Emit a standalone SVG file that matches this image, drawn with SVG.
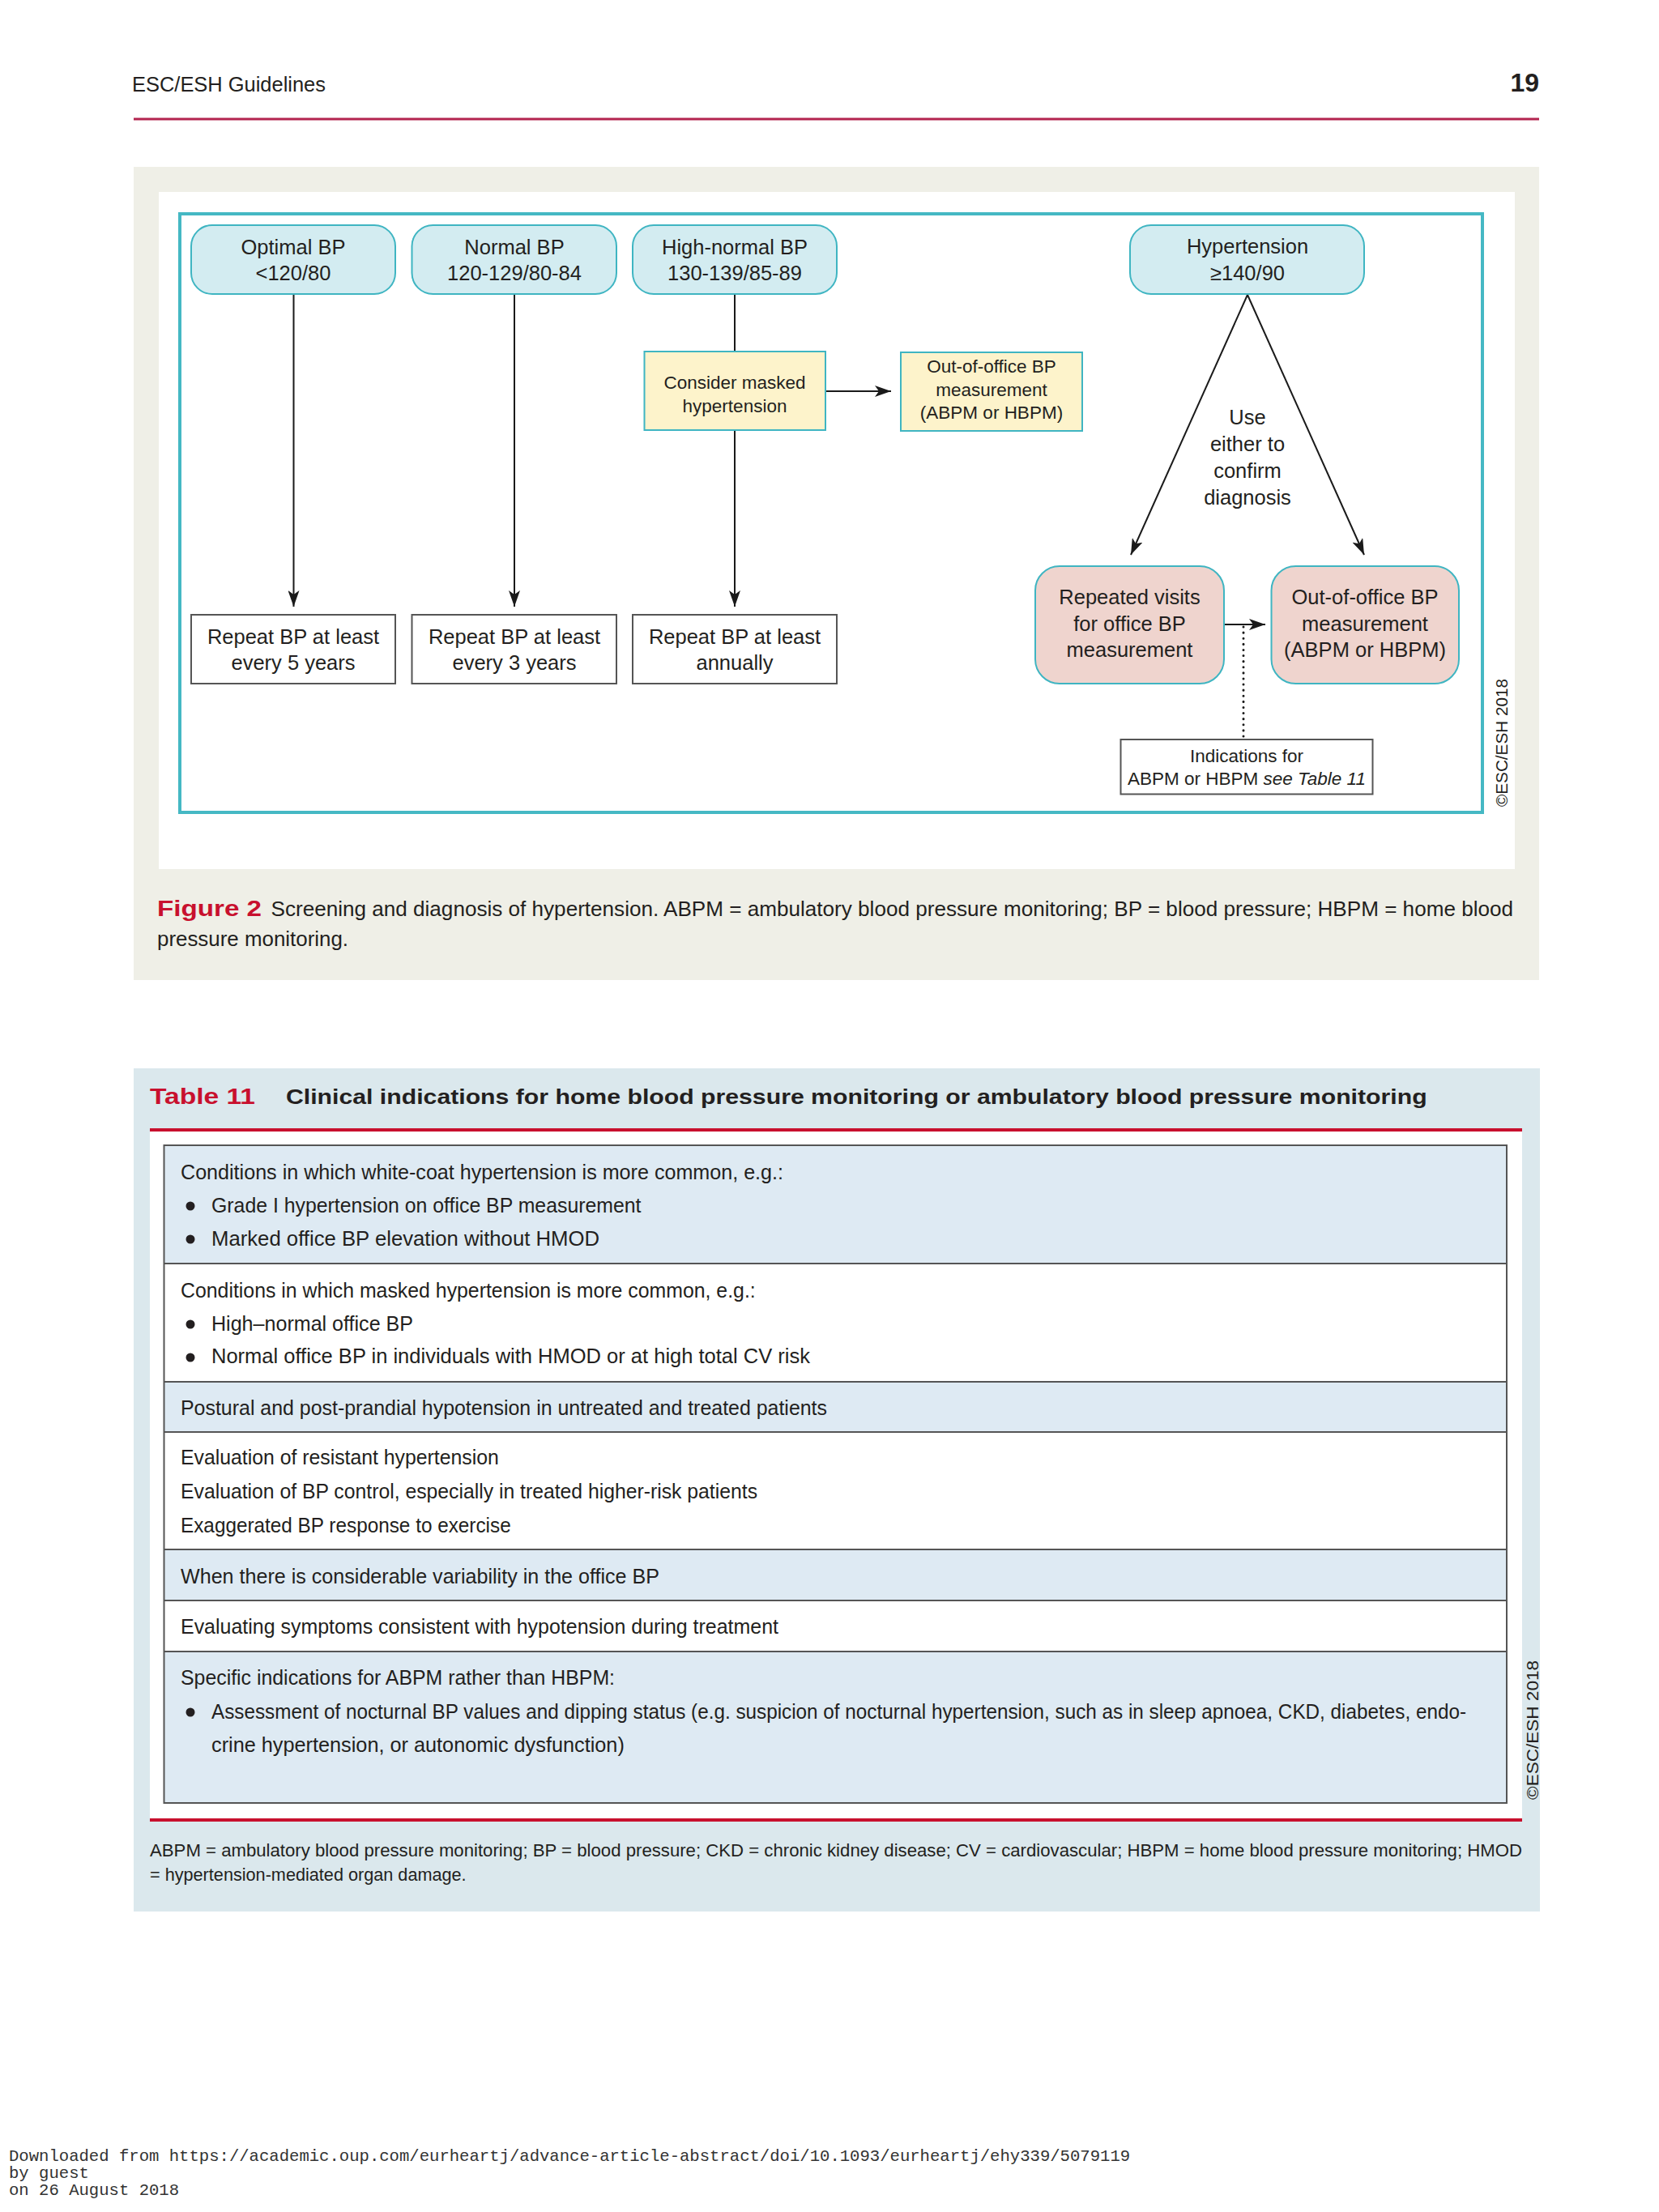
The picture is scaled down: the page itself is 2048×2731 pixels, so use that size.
<svg xmlns="http://www.w3.org/2000/svg" width="2048" height="2731" viewBox="0 0 2048 2731">
<defs>
<marker id="ah" markerUnits="userSpaceOnUse" markerWidth="20" markerHeight="14" refX="20" refY="7" orient="auto">
<path d="M0,0 L20,7 L0,14 L5,7 z" fill="#1a1a1a"/>
</marker>
</defs>
<style>
.fc{font-family:"Liberation Sans",Arial,sans-serif;fill:#231f20;text-anchor:middle}
.f26{font-size:25.5px}
.f22{font-size:22.5px}
.tb{font-family:"Liberation Sans",Arial,sans-serif;font-size:25px;fill:#231f20}
.blue{fill:#d3ecf1;stroke:#3fb5c2;stroke-width:2}
.pink{fill:#efd4ce;stroke:#3fb5c2;stroke-width:2}
.yel{fill:#fdf3cb;stroke:#3fb5c2;stroke-width:2}
.wbox{fill:#ffffff;stroke:#555;stroke-width:2}
.ln{stroke:#1a1a1a;stroke-width:2;fill:none}
.row{stroke:#555;stroke-width:2}
.rb{fill:#deeaf3}
.rw{fill:#ffffff}
</style>
<rect x="0" y="0" width="2048" height="2731" fill="#ffffff"/>
<g id="header">
<text x="163" y="113" font-family="'Liberation Sans',Arial,sans-serif" font-size="26" fill="#231f20" textLength="239" lengthAdjust="spacingAndGlyphs">ESC/ESH Guidelines</text>
<text x="1900" y="113" font-family="'Liberation Sans',Arial,sans-serif" font-size="32" font-weight="bold" fill="#231f20" text-anchor="end">19</text>
<rect x="165" y="145.5" width="1735" height="3" fill="#b3244f"/>
</g>
<g id="figure-panel">
<rect x="165" y="206" width="1735" height="1004" fill="#efefe7"/>
<rect x="196" y="237" width="1674" height="836" fill="#ffffff"/>
<rect x="222" y="264" width="1608" height="739" fill="none" stroke="#45b8c4" stroke-width="4"/>
</g>
<g id="connectors">
<line class="ln" x1="362.5" y1="363" x2="362.5" y2="749" marker-end="url(#ah)"/>
<line class="ln" x1="635" y1="363" x2="635" y2="749" marker-end="url(#ah)"/>
<line class="ln" x1="907" y1="363" x2="907" y2="434"/>
<line class="ln" x1="907" y1="531" x2="907" y2="749" marker-end="url(#ah)"/>
<line class="ln" x1="1019" y1="483" x2="1100" y2="483" marker-end="url(#ah)"/>
<line class="ln" x1="1540" y1="364" x2="1396" y2="685" marker-end="url(#ah)"/>
<line class="ln" x1="1540" y1="364" x2="1684" y2="685" marker-end="url(#ah)"/>
<line class="ln" x1="1511" y1="771" x2="1562" y2="771" marker-end="url(#ah)"/>
<line x1="1535" y1="774" x2="1535" y2="912" stroke="#1a1a1a" stroke-width="3" stroke-dasharray="0.1,7" stroke-linecap="round"/>
</g>
<g id="n-optimal">
<rect class="blue" x="236" y="278" width="252" height="85" rx="26"/>
<text class="fc f26" x="362" y="314">Optimal BP</text>
<text class="fc f26" x="362" y="346">&lt;120/80</text>
</g>
<g id="n-normal">
<rect class="blue" x="508.5" y="278" width="252.5" height="85" rx="26"/>
<text class="fc f26" x="635" y="314">Normal BP</text>
<text class="fc f26" x="635" y="346">120-129/80-84</text>
</g>
<g id="n-highnormal">
<rect class="blue" x="781" y="278" width="252" height="85" rx="26"/>
<text class="fc f26" x="907" y="314">High-normal BP</text>
<text class="fc f26" x="907" y="346">130-139/85-89</text>
</g>
<g id="n-hypertension">
<rect class="blue" x="1395" y="278" width="289" height="85" rx="26"/>
<text class="fc f26" x="1540" y="313">Hypertension</text>
<text class="fc f26" x="1540" y="346">≥140/90</text>
</g>
<g id="n-masked">
<rect class="yel" x="795.5" y="434" width="223.5" height="97"/>
<text class="fc f22" x="907" y="480">Consider masked</text>
<text class="fc f22" x="907" y="509">hypertension</text>
</g>
<g id="n-outoffice1">
<rect class="yel" x="1112" y="435" width="224" height="97"/>
<text class="fc f22" x="1224" y="460">Out-of-office BP</text>
<text class="fc f22" x="1224" y="489">measurement</text>
<text class="fc f22" x="1224" y="517">(ABPM or HBPM)</text>
</g>
<g id="n-use">
<text class="fc f26" x="1540" y="524">Use</text>
<text class="fc f26" x="1540" y="557">either to</text>
<text class="fc f26" x="1540" y="590">confirm</text>
<text class="fc f26" x="1540" y="623">diagnosis</text>
</g>
<g id="n-repeat5">
<rect class="wbox" x="236" y="759" width="252" height="85"/>
<text class="fc f26" x="362" y="795">Repeat BP at least</text>
<text class="fc f26" x="362" y="827">every 5 years</text>
</g>
<g id="n-repeat3">
<rect class="wbox" x="508.5" y="759" width="252.5" height="85"/>
<text class="fc f26" x="635" y="795">Repeat BP at least</text>
<text class="fc f26" x="635" y="827">every 3 years</text>
</g>
<g id="n-repeat1">
<rect class="wbox" x="781" y="759" width="252" height="85"/>
<text class="fc f26" x="907" y="795">Repeat BP at least</text>
<text class="fc f26" x="907" y="827">annually</text>
</g>
<g id="n-visits">
<rect class="pink" x="1278" y="699" width="233" height="145" rx="30"/>
<text class="fc f26" x="1394.5" y="746">Repeated visits</text>
<text class="fc f26" x="1394.5" y="779">for office BP</text>
<text class="fc f26" x="1394.5" y="811">measurement</text>
</g>
<g id="n-outoffice2">
<rect class="pink" x="1569.5" y="699" width="231.5" height="145" rx="30"/>
<text class="fc f26" x="1685" y="746">Out-of-office BP</text>
<text class="fc f26" x="1685" y="779">measurement</text>
<text class="fc f26" x="1685" y="811">(ABPM or HBPM)</text>
</g>
<g id="n-indications">
<rect class="wbox" x="1383.5" y="913" width="311" height="67.5"/>
<text class="fc f22" x="1539" y="941">Indications for</text>
<text class="fc f22" x="1539" y="969">ABPM or HBPM <tspan font-style="italic">see Table 11</tspan></text>
</g>
<text transform="translate(1861,917) rotate(-90)" font-family="'Liberation Sans',Arial,sans-serif" font-size="20" fill="#231f20" text-anchor="middle" textLength="158" lengthAdjust="spacingAndGlyphs">©ESC/ESH 2018</text>
<g id="caption">
<text x="194" y="1131" font-family="'Liberation Sans',Arial,sans-serif" font-size="27" font-weight="bold" fill="#c8102e" textLength="129" lengthAdjust="spacingAndGlyphs">Figure 2</text>
<text x="334.5" y="1131" font-family="'Liberation Sans',Arial,sans-serif" font-size="26" fill="#231f20" textLength="1533.5" lengthAdjust="spacingAndGlyphs">Screening and diagnosis of hypertension. ABPM = ambulatory blood pressure monitoring; BP = blood pressure; HBPM = home blood</text>
<text x="194" y="1168" font-family="'Liberation Sans',Arial,sans-serif" font-size="26" fill="#231f20" textLength="236" lengthAdjust="spacingAndGlyphs">pressure monitoring.</text>
</g>
<g id="table">
<rect x="165" y="1319" width="1736" height="1041" fill="#dbe8ed"/>
<text x="185" y="1363" font-family="'Liberation Sans',Arial,sans-serif" font-size="27" font-weight="bold" fill="#c8102e" textLength="130" lengthAdjust="spacingAndGlyphs">Table 11</text>
<text x="353" y="1363" font-family="'Liberation Sans',Arial,sans-serif" font-size="26" font-weight="bold" fill="#231f20" textLength="1408.6" lengthAdjust="spacingAndGlyphs">Clinical indications for home blood pressure monitoring or ambulatory blood pressure monitoring</text>
<rect x="185" y="1397" width="1694" height="848" fill="#ffffff"/>
<rect x="185" y="1393" width="1694" height="4" fill="#c8102e"/>
<rect x="185" y="2245" width="1694" height="4" fill="#c8102e"/>
<rect class="rb" x="202.5" y="1414" width="1657.5" height="146"/>
<rect class="rw" x="202.5" y="1560" width="1657.5" height="146"/>
<rect class="rb" x="202.5" y="1706" width="1657.5" height="62"/>
<rect class="rw" x="202.5" y="1768" width="1657.5" height="145"/>
<rect class="rb" x="202.5" y="1913" width="1657.5" height="63"/>
<rect class="rw" x="202.5" y="1976" width="1657.5" height="63"/>
<rect class="rb" x="202.5" y="2039" width="1657.5" height="187"/>
<g fill="none" stroke="#555" stroke-width="2">
<rect x="202.5" y="1414" width="1657.5" height="812"/>
<line x1="202.5" y1="1560" x2="1860" y2="1560"/>
<line x1="202.5" y1="1706" x2="1860" y2="1706"/>
<line x1="202.5" y1="1768" x2="1860" y2="1768"/>
<line x1="202.5" y1="1913" x2="1860" y2="1913"/>
<line x1="202.5" y1="1976" x2="1860" y2="1976"/>
<line x1="202.5" y1="2039" x2="1860" y2="2039"/>
</g>
<g fill="#231f20">
<circle cx="235" cy="1489" r="5.5"/>
<circle cx="235" cy="1530" r="5.5"/>
<circle cx="235" cy="1635" r="5.5"/>
<circle cx="235" cy="1676" r="5.5"/>
<circle cx="235" cy="2114" r="5.5"/>
</g>
<text class="tb" x="223" y="1456" textLength="744" lengthAdjust="spacingAndGlyphs">Conditions in which white-coat hypertension is more common, e.g.:</text>
<text class="tb" x="261" y="1497" textLength="530.5" lengthAdjust="spacingAndGlyphs">Grade I hypertension on office BP measurement</text>
<text class="tb" x="261" y="1538" textLength="479" lengthAdjust="spacingAndGlyphs">Marked office BP elevation without HMOD</text>
<text class="tb" x="223" y="1602" textLength="709.7" lengthAdjust="spacingAndGlyphs">Conditions in which masked hypertension is more common, e.g.:</text>
<text class="tb" x="261" y="1643" textLength="249" lengthAdjust="spacingAndGlyphs">High–normal office BP</text>
<text class="tb" x="261" y="1683" textLength="739" lengthAdjust="spacingAndGlyphs">Normal office BP in individuals with HMOD or at high total CV risk</text>
<text class="tb" x="223" y="1747" textLength="798" lengthAdjust="spacingAndGlyphs">Postural and post-prandial hypotension in untreated and treated patients</text>
<text class="tb" x="223" y="1808" textLength="392.8" lengthAdjust="spacingAndGlyphs">Evaluation of resistant hypertension</text>
<text class="tb" x="223" y="1850" textLength="712" lengthAdjust="spacingAndGlyphs">Evaluation of BP control, especially in treated higher-risk patients</text>
<text class="tb" x="223" y="1892" textLength="407.7" lengthAdjust="spacingAndGlyphs">Exaggerated BP response to exercise</text>
<text class="tb" x="223" y="1955" textLength="591" lengthAdjust="spacingAndGlyphs">When there is considerable variability in the office BP</text>
<text class="tb" x="223" y="2017" textLength="738" lengthAdjust="spacingAndGlyphs">Evaluating symptoms consistent with hypotension during treatment</text>
<text class="tb" x="223" y="2080" textLength="536" lengthAdjust="spacingAndGlyphs">Specific indications for ABPM rather than HBPM:</text>
<text class="tb" x="261" y="2122" textLength="1549" lengthAdjust="spacingAndGlyphs">Assessment of nocturnal BP values and dipping status (e.g. suspicion of nocturnal hypertension, such as in sleep apnoea, CKD, diabetes, endo-</text>
<text class="tb" x="261" y="2163" textLength="509.8" lengthAdjust="spacingAndGlyphs">crine hypertension, or autonomic dysfunction)</text>
<text x="185" y="2292" font-family="'Liberation Sans',Arial,sans-serif" font-size="22" fill="#231f20" textLength="1694" lengthAdjust="spacingAndGlyphs">ABPM = ambulatory blood pressure monitoring; BP = blood pressure; CKD = chronic kidney disease; CV = cardiovascular; HBPM = home blood pressure monitoring; HMOD</text>
<text x="185" y="2322" font-family="'Liberation Sans',Arial,sans-serif" font-size="22" fill="#231f20" textLength="390.6" lengthAdjust="spacingAndGlyphs">= hypertension-mediated organ damage.</text>
<text transform="translate(1899,2136) rotate(-90)" font-family="'Liberation Sans',Arial,sans-serif" font-size="21" fill="#231f20" text-anchor="middle" textLength="172" lengthAdjust="spacingAndGlyphs">©ESC/ESH 2018</text>
</g>
<g id="footer" font-family="'Liberation Mono','Courier New',monospace" font-size="20.6" fill="#333333">
<text x="11" y="2668">Downloaded from https://academic.oup.com/eurheartj/advance-article-abstract/doi/10.1093/eurheartj/ehy339/5079119</text>
<text x="11" y="2689">by guest</text>
<text x="11" y="2710">on 26 August 2018</text>
</g>
</svg>
